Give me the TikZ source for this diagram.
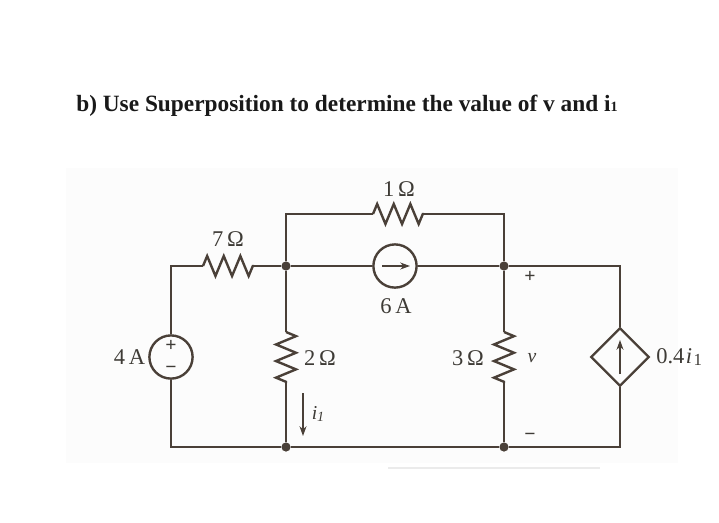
\documentclass[tikz,border=0pt]{standalone}
\usepackage{fontspec}
\setmainfont{Liberation Serif}
\usetikzlibrary{positioning,calc,decorations.pathmorphing,shapes.geometric,arrows.meta}

\begin{document}
\begin{tikzpicture}[x=0.025cm, y=-0.025cm]
    \definecolor{wirecol}{HTML}{4A4038}
    \definecolor{textcol}{HTML}{3E3B36}
    \tikzstyle{wire}    = [draw=wirecol, line width=1.7pt]
    \tikzstyle{res}     = [wire, line join=miter, decorate, decoration={zigzag, segment length=0.415cm, amplitude=0.25cm}]
    \tikzstyle{dot}     = [circle, fill=wirecol, inner sep=0, minimum size=0.23cm]
    \tikzstyle{source}  = [circle, draw=wirecol, line width=1.7pt, fill=none, inner sep=0, minimum size=1.08cm]
    \tikzstyle{depsrc}  = [diamond, draw=wirecol, line width=1.7pt, inner sep=0, minimum width=1.46cm, minimum height=1.46cm]
    \tikzstyle{value}   = [text=textcol, inner sep=1pt, font=\fontsize{16}{18}\selectfont]
    \tikzstyle{sign}    = [text=textcol, inner sep=0, font=\fontsize{14}{16}\selectfont\bfseries]
    \tikzstyle{pointer} = [draw=wirecol, line width=0.9pt, -{Stealth[length=7pt, width=5pt]}]

    \useasboundingbox (0,0) rectangle (719,522);
    \fill[white] (0,0) rectangle (719,522);
    \fill[black!1] (66,168) rectangle (678,463);
    \fill[black!8] (388,467) rectangle (600,469);

    \node[anchor=base west, inner sep=0, text=black!90, font=\fontsize{16.6}{20}\selectfont\bfseries] (title) at (76,111) {b) Use Superposition to determine the value of v and i\raisebox{-0.5pt}{\fontsize{10}{12}\selectfont 1}};

    % Corners and junctions
    \coordinate (tl) at (171,266);
    \coordinate (bl) at (171,447);
    \coordinate (tm) at (286,214);
    \coordinate (tr) at (504,214);
    \coordinate (fr) at (620,266);
    \coordinate (br) at (620,447);
    \node[dot] (nodeA) at (286,266) {};
    \node[dot] (nodeB) at (504,266) {};
    \node[dot] (nodeC) at (286,447) {};
    \node[dot] (nodeD) at (504,447) {};

    % Sources
    \node[source] (vsrc) at (171,357) {};
    \node[source] (isrc) at (395,266) {};
    \node[depsrc] (dsrc) at (620,357) {};

    % Resistors
    \coordinate (r7a) at (203,266);
    \coordinate (r7b) at (254,266);
    \coordinate (r1a) at (373,214);
    \coordinate (r1b) at (424,214);
    \coordinate (r2a) at (286,332);
    \coordinate (r2b) at (286,383);
    \coordinate (r3a) at (504,332);
    \coordinate (r3b) at (504,383);
    \draw[res] (r7a) -- (r7b);
    \draw[res] (r1a) -- (r1b);
    \draw[res] (r2a) -- (r2b);
    \draw[res] (r3a) -- (r3b);

    % Wires
    \draw[wire] (vsrc) -- (tl) -- (r7a);
    \draw[wire] (r7b) -- (nodeA);
    \draw[wire] (vsrc) -- (bl) -- (nodeC);
    \draw[wire] (nodeA) -- (tm) -- (r1a);
    \draw[wire] (r1b) -- (tr) -- (nodeB);
    \draw[wire] (nodeA) -- (isrc);
    \draw[wire] (isrc) -- (nodeB);
    \draw[wire] (nodeB) -- (fr) -- (dsrc);
    \draw[wire] (dsrc) -- (br) -- (nodeD);
    \draw[wire] (nodeC) -- (nodeD);
    \draw[wire] (nodeA) -- (r2a);
    \draw[wire] (r2b) -- (nodeC);
    \draw[wire] (nodeB) -- (r3a);
    \draw[wire] (r3b) -- (nodeD);

    % Arrows
    \coordinate (isrcA) at (382,266);
    \coordinate (isrcB) at (410,266);
    \draw[pointer] (isrcA) -- (isrcB);
    \coordinate (dsrcA) at (620,374);
    \coordinate (dsrcB) at (620,340);
    \draw[pointer] (dsrcA) -- (dsrcB);
    \coordinate (curA) at (303,393);
    \coordinate (curB) at (303,436);
    \draw[pointer] (curA) -- (curB);

    % Labels
    \node[value, left=1pt of vsrc] (lab4) {4\,A};
    \node[value] (lab7) at (228,239) {7\,Ω};
    \node[value] (lab1) at (399,189) {1\,Ω};
    \node[value] (lab6) at (396,306) {6\,A};
    \node[value] (lab2) at (320,358) {2\,Ω};
    \node[value] (lab3) at (468,358) {3\,Ω};
    \node[value, right=3pt of dsrc] (labd) {0.4\kern1pt\textit{i}\kern1pt\raisebox{-2pt}{\fontsize{12}{14}\selectfont 1}};
    \node[value, font=\fontsize{14}{16}\selectfont\itshape] (labi) at (318,414) {i\raisebox{-2pt}{\fontsize{10}{12}\selectfont 1}};
    \node[value, font=\fontsize{14}{16}\selectfont\itshape] (labv) at (532,358) {v};

    % Signs
    \node[sign] (vplus) at (171,346) {+};
    \node[sign] (vminus) at (171,370) {\textminus};
    \node[sign] (oplus) at (530,277) {+};
    \node[sign] (ominus) at (530,437) {\textminus};
\end{tikzpicture}
\end{document}
